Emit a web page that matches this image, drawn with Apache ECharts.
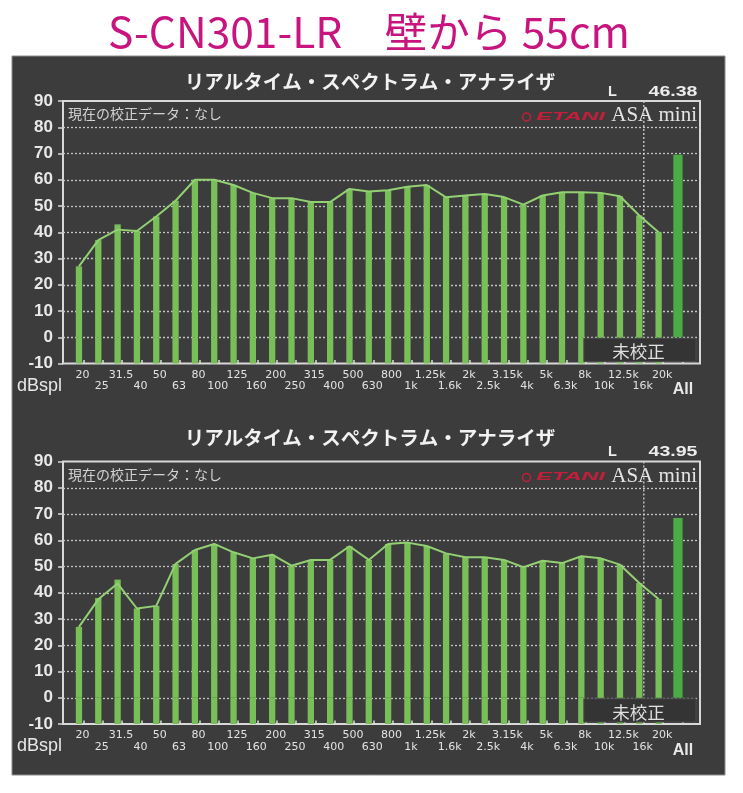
<!DOCTYPE html>
<html><head><meta charset="utf-8">
<script src="https://cdn.jsdelivr.net/npm/echarts@6/dist/echarts.min.js"></script>
<style>html,body{margin:0;padding:0;background:#fff}#c{width:743px;height:793px}</style>
</head><body><div id="c"></div>
<script>
// ---------- data ----------
const CATS = ['20','25','31.5','40','50','63','80','100','125','160','200','250','315','400','500','630','800','1k','1.25k','1.6k','2k','2.5k','3.15k','4k','5k','6.3k','8k','10k','12.5k','16k','20k','All'];
const TOP_BANDS = [27,37,43,40.5,46,52,60,60,58,55,53,53,51.5,51.5,56.5,55.5,56,57.3,58,53.3,54,54.6,53.4,50.5,54,55.2,55.2,55,53.7,46.4,40];
const TOP_LINE  = [27,37,41,40.5,46,52,60,60,58,55,53,53,51.5,51.5,56.5,55.5,56,57.3,58,53.3,54,54.6,53.4,50.5,54,55.2,55.2,55,53.7,46.4,40];
const TOP_ALL = 69.5;
const BOT_BANDS = [27,38,45,34,35,51,56.3,58.6,55.4,53.1,54.5,50.3,52.5,52.5,57.7,52.5,58.6,59.1,57.8,55,53.5,53.5,52.5,49.7,52.2,51.3,53.9,53.1,50.7,43.7,37.6];
const BOT_LINE  = [27,37.5,43.5,34,35,51,56.3,58.6,55.4,53.1,54.5,50.3,52.5,52.5,57.7,52.5,58.6,59.1,57.8,55,53.5,53.5,52.5,49.7,52.2,51.3,53.9,53.1,50.7,43.7,37.6];
const BOT_ALL = 68.5;
const LEVELS = ['46.38', '43.95'];
const Y_MIN = -10, Y_MAX = 90, Y_STEP = 10;
const MAIN_TITLE = 'S-CN301-LR　壁から 55cm';
const PANEL_TITLE = 'リアルタイム・スペクトラム・アナライザ';
const CAL_TEXT = '現在の校正データ：なし';
const UNCAL_TEXT = '未校正';
const UNIT_TEXT = 'dBspl';

// ---------- layout / style ----------
const GREEN = '#79bf58', GREEN_ALL = '#4aab47', LINE_GREEN = '#93d073';
const FRAME_L = 63, FRAME_R = 700, BAR_L = 69.3, BAR_W = 618.3, PH = 262.5;
const panels = [
  {top: 101, bands: TOP_BANDS, line: TOP_LINE, all: TOP_ALL, level: LEVELS[0], titleY: 81.5},
  {top: 461.5, bands: BOT_BANDS, line: BOT_LINE, all: BOT_ALL, level: LEVELS[1], titleY: 438}
];
const LAST = CATS.length - 1;
const chart = echarts.init(document.getElementById('c'));

const grid = [], xAxis = [], yAxis = [], series = [];
panels.forEach((p, k) => {
  const G = 3 * k, X = 4 * k, Y = 3 * k;
  grid.push({left: FRAME_L, top: p.top, width: FRAME_R - FRAME_L, height: PH, show: true,
    borderColor: '#d8d8d8', borderWidth: 2, backgroundColor: 'transparent',
    containLabel: false, outerBoundsMode: 'none'});
  grid.push({left: BAR_L, top: p.top, width: BAR_W, height: PH, containLabel: false, outerBoundsMode: 'none'});
  grid.push({left: BAR_L + 4.5, top: p.top, width: BAR_W, height: PH, containLabel: false, outerBoundsMode: 'none'});
  // x axes
  xAxis.push({type: 'value', gridIndex: G, min: 0, max: 1, show: false});
  xAxis.push({type: 'category', gridIndex: G + 1, data: CATS, boundaryGap: true, position: 'bottom',
    axisLine: {show: false, onZero: false}, axisTick: {show: false}, splitLine: {show: false},
    axisLabel: {interval: 0, hideOverlap: false, margin: 5.5, padding: [0, 0, 0, 7],
      fontFamily: 'DejaVu Sans', fontSize: 11, color: '#e2e2e2', lineHeight: 11.5,
      formatter: (v, i) => i === LAST ? '{s| }\n{a|' + v + '}' : (i % 2 === 0 ? v + '\n ' : ' \n' + v),
      rich: {
        s: {fontSize: 11, lineHeight: 12},
        a: {fontFamily: 'Liberation Sans', fontSize: 16, fontWeight: 'bold', color: '#e8e8e8', lineHeight: 18, padding: [0, 0, 0, 3]}
      }}});
  xAxis.push({type: 'category', gridIndex: G + 1, data: CATS, show: false});
  xAxis.push({type: 'category', gridIndex: G + 2, data: CATS, boundaryGap: true, position: 'bottom',
    axisLine: {show: false, onZero: false}, axisLabel: {show: false}, splitLine: {show: false},
    axisTick: {show: true, alignWithLabel: true, inside: true, length: 3.5, interval: 0,
      lineStyle: {color: '#dcdcdc', width: 1.5}}});
  // y axes
  yAxis.push({type: 'value', gridIndex: G, min: Y_MIN, max: Y_MAX, interval: Y_STEP,
    axisLine: {show: false},
    axisTick: {show: true, length: 5, lineStyle: {color: '#d8d8d8', width: 1.5}},
    axisLabel: {margin: 10, fontFamily: 'Liberation Sans', fontSize: 17, fontWeight: 'bold', color: '#e8e8e8'},
    splitLine: {show: true, showMinLine: false, showMaxLine: false,
      lineStyle: {type: [2, 2], color: '#c4c4c4', width: 1.3}}});
  yAxis.push({type: 'value', gridIndex: G + 1, min: Y_MIN, max: Y_MAX, interval: Y_STEP, show: false});
  yAxis.push({type: 'value', gridIndex: G + 2, min: Y_MIN, max: Y_MAX, interval: Y_STEP, show: false});

  series.push({type: 'bar', name: 'base' + k, xAxisIndex: X + 1, yAxisIndex: Y + 1, stack: 's' + k,
    barWidth: 6.3, silent: true, itemStyle: {color: GREEN},
    data: CATS.map((c, i) => i < LAST ? Y_MIN : '-')});
  series.push({type: 'bar', name: 'band' + k, xAxisIndex: X + 1, yAxisIndex: Y + 1, stack: 's' + k,
    barWidth: 6.3, silent: true, itemStyle: {color: GREEN}, data: p.bands.concat(['-'])});
  series.push({type: 'bar', name: 'all' + k, xAxisIndex: X + 2, yAxisIndex: Y + 1,
    barWidth: 9.3, silent: true, itemStyle: {color: GREEN_ALL},
    data: CATS.map((c, i) => i === LAST ? p.all : '-')});
  series.push({type: 'line', name: 'curve' + k, xAxisIndex: X + 1, yAxisIndex: Y + 1,
    showSymbol: false, silent: true, z: 3, lineStyle: {color: LINE_GREEN, width: 2},
    data: p.line.concat(['-'])});
});

chart.setOption({animation: false, backgroundColor: '#ffffff', grid, xAxis, yAxis, series});

// ---------- annotations ----------
const g = [];
g.push({type: 'rect', id: 'panel', z: -10, shape: {x: 12, y: 56, width: 713, height: 719},
  style: {fill: '#3c3c3c', stroke: '#8c8c8c', lineWidth: 1}});
g.push({type: 'text', id: 'main', x: 369, y: 32, style: {text: MAIN_TITLE, align: 'center', verticalAlign: 'middle',
  fontFamily: 'Noto Sans CJK JP', fontSize: 42.5, fill: '#c8147f'}});
panels.forEach((p, k) => {
  const xa = 4 * k + 1, ya = 3 * k + 1;
  const x8k = chart.convertToPixel({xAxisIndex: xa}, '8k');
  const x16k = chart.convertToPixel({xAxisIndex: xa}, '16k');
  const y0 = chart.convertToPixel({yAxisIndex: ya}, 0);
  const yMin = chart.convertToPixel({yAxisIndex: ya}, Y_MIN);
  const yMax = chart.convertToPixel({yAxisIndex: ya}, Y_MAX);
  g.push({type: 'text', id: 'pt' + k, x: 370, y: p.titleY, style: {text: PANEL_TITLE, align: 'center', verticalAlign: 'middle',
    fontFamily: 'Noto Sans CJK JP', fontSize: 19.5, fontWeight: 'bold', fill: '#f2f2f2'}});
  g.push({type: 'text', id: 'L' + k, x: 612.5, y: yMax - 9.5, style: {text: 'L', align: 'center', verticalAlign: 'middle',
    fontFamily: 'Liberation Sans', fontSize: 14.5, fontWeight: 'bold', fill: '#ececec'}});
  g.push({type: 'text', id: 'lv' + k, x: 697.5, y: yMax - 9.5, scaleX: 1.35, style: {text: p.level, align: 'right', verticalAlign: 'middle',
    fontFamily: 'Liberation Sans', fontSize: 14.5, fontWeight: 'bold', fill: '#ececec'}});
  g.push({type: 'text', id: 'cal' + k, x: 68, y: yMax + 13, z: 5, style: {text: CAL_TEXT, align: 'left', verticalAlign: 'middle',
    fontFamily: 'Noto Sans CJK JP', fontSize: 14, fill: '#d2d2d2'}});
  g.push({type: 'text', id: 'asa' + k, x: 697, y: yMax + 14.5, z: 5, style: {text: 'ASA mini', align: 'right', verticalAlign: 'middle',
    fontFamily: 'Liberation Serif', fontSize: 21, fill: '#e4e4e4'}});
  g.push({type: 'text', id: 'etani' + k, x: 605, y: yMax + 16, z: 5, scaleX: 2.35, style: {text: 'ETANI', align: 'right', verticalAlign: 'middle',
    fontFamily: 'Liberation Sans', fontSize: 10, fontWeight: 'bold', fontStyle: 'italic', fill: '#c41e3a'}});
  g.push({type: 'circle', id: 'ring' + k, z: 5, shape: {cx: 526.5, cy: yMax + 16, r: 4},
    style: {fill: 'none', stroke: '#c41e3a', lineWidth: 1.5}});
  g.push({type: 'text', id: 'unit' + k, x: 17, y: yMin + 22.5, style: {text: UNIT_TEXT, align: 'left', verticalAlign: 'middle',
    fontFamily: 'Liberation Sans', fontSize: 18, fill: '#e8e8e8'}});
  g.push({type: 'line', id: 'cursor' + k, z: 6, shape: {x1: x16k + 4.5, y1: yMax, x2: x16k + 4.5, y2: y0},
    style: {stroke: '#d0d0d0', lineWidth: 1.3, lineDash: [2, 2]}});
  const bx = x8k + 2.5, bw = 696 - bx;
  g.push({type: 'rect', id: 'box' + k, z: 10, shape: {x: bx, y: y0 + 1, width: bw, height: yMin - y0 - 3},
    style: {fill: '#343434', stroke: '#4a4a4a', lineWidth: 1}});
  g.push({type: 'text', id: 'unc' + k, z: 11, x: bx + bw / 2 - 1.5, y: (y0 + yMin) / 2 + 1, style: {text: UNCAL_TEXT, align: 'center', verticalAlign: 'middle',
    fontFamily: 'Noto Sans CJK JP', fontSize: 17.5, fill: '#e0e0e0'}});
});
chart.setOption({graphic: g});
</script></body></html>
